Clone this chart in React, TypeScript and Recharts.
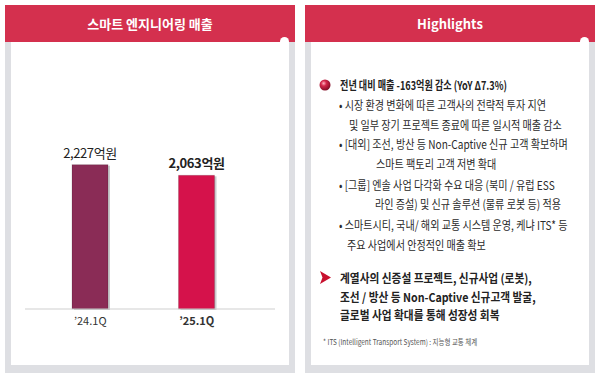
import React from "react";
import { BarChart, Bar, XAxis, YAxis, Cell, LabelList } from "recharts";

const categories = ["’24.1Q", "’25.1Q"];
const salesValues = [2227, 2063];
const valueLabels = ["2,227억원", "2,063억원"];
const barColors = ["#8a2c56", "#d5124b"];
const boldFlags = [false, true];

const leftTitle = "스마트 엔지니어링 매출";
const rightTitle = "Highlights";
const headline = "전년 대비 매출 -163억원 감소 (YoY Δ7.3%)";
const bulletLines = [
  "• 시장 환경 변화에 따른 고객사의 전략적 투자 지연",
  "및 일부 장기 프로젝트 종료에 따른 일시적 매출 감소",
  "• [대외] 조선, 방산 등 Non-Captive 신규 고객 확보하며",
  "스마트 팩토리 고객 저변 확대",
  "• [그룹] 엔솔 사업 다각화 수요 대응 (북미 / 유럽 ESS",
  "라인 증설) 및 신규 솔루션 (물류 로봇 등) 적용",
  "• 스마트시티, 국내/ 해외 교통 시스템 운영, 케냐 ITS* 등",
  "주요 사업에서 안정적인 매출 확보",
];
const outlookLines = [
  "계열사의 신증설 프로젝트, 신규사업 (로봇),",
  "조선 / 방산 등 Non-Captive 신규고객 발굴,",
  "글로벌 사업 확대를 통해 성장성 회복",
];
const footnote = "* ITS (Intelligent Transport System) : 지능형 교통 체계";

const data = categories.map((c, i) => ({
  name: c,
  value: salesValues[i],
  label: valueLabels[i],
  bold: boldFlags[i],
}));

const FONT = "'Noto Sans CJK KR', 'Noto Sans', sans-serif";
const RED = "#d4304e";
const GRAY = "#dedfe3";

const bulletLefts = [339, 349, 339, 376, 339, 375, 339, 347];
const bulletCys = [105, 125, 144, 164, 185, 204, 225, 245];
const outlookCys = [278, 297, 315];

function Line({ text, left, cy, bold, size, scale, color }: any) {
  return (
    <div
      style={{
        position: "absolute",
        left,
        top: cy - 9,
        height: 18,
        lineHeight: "18px",
        fontSize: size,
        fontWeight: bold ? 700 : 400,
        color: color || "#222",
        whiteSpace: "nowrap",
        transform: `scaleX(${scale})`,
        transformOrigin: "left center",
        fontFamily: FONT,
      }}
    >
      {text}
    </div>
  );
}

function Panel({ left, title }: any) {
  return (
    <>
      <div
        style={{
          position: "absolute",
          left,
          top: 42,
          width: 290,
          height: 331,
          background: GRAY,
        }}
      />
      <div
        style={{
          position: "absolute",
          left: left + 6,
          top: 42,
          width: 278,
          height: 323,
          background: "#ffffff",
        }}
      />
      <div
        style={{
          position: "absolute",
          left,
          top: 5,
          width: 290,
          height: 37,
          background: RED,
          color: "#fff",
          fontFamily: FONT,
          fontWeight: 700,
          fontSize: 13,
          lineHeight: "37px",
          textAlign: "center",
        }}
      >
        {title}
      </div>
      <div
        style={{
          position: "absolute",
          left: left + 275,
          top: 37,
          width: 9,
          height: 10,
          borderRadius: "5px 5px 0 0",
          background: "#ffffff",
        }}
      />
    </>
  );
}

const Tick = (props: any) => {
  const { x, y, payload, index } = props;
  return (
    <text
      x={x}
      y={y}
      dy="0.71em"
      textAnchor="middle"
      fontSize={11}
      fontFamily={FONT}
      fontWeight={boldFlags[index] ? 700 : 400}
      fill="#333"
    >
      {payload.value}
    </text>
  );
};

const BarShape = (props: any) => {
  const { x, y, width, height, fill } = props;
  return (
    <g>
      <rect x={x + 2} y={y + 1} width={width} height={height} fill="#c9c9cc" />
      <rect x={x} y={y} width={width} height={height} fill={fill} stroke="rgba(0,0,0,0.15)" strokeWidth={1} />
    </g>
  );
};

const ValueLabel = (props: any) => {
  const { x, y, width, index } = props;
  return (
    <text
      x={x + width / 2}
      y={y - 7}
      textAnchor="middle"
      fontSize={13}
      fontFamily={FONT}
      fontWeight={boldFlags[index] ? 700 : 400}
      fill="#222"
      letterSpacing={-0.4}
    >
      {valueLabels[index]}
    </text>
  );
};

export default function App() {
  return (
    <div
      style={{
        position: "absolute",
        left: 0,
        top: 0,
        width: 600,
        height: 380,
        background: "#fff",
        overflow: "hidden",
        fontFamily: FONT,
      }}
    >
      <Panel left={5} title={leftTitle} />
      <Panel left={305} title={rightTitle} />

      <div style={{ position: "absolute", left: 5, top: 42 }}>
        <BarChart
          width={290}
          height={297}
          data={data}
          margin={{ top: 105, right: 20, bottom: 0, left: 20 }}
        >
          <YAxis hide domain={[0, 2500]} />
          <XAxis
            dataKey="name"
            height={30}
            axisLine={{ stroke: "#cfcfcf" }}
            tickLine={false}
            tick={<Tick />}
            padding={{ left: 12, right: 25 }}
          />
          <Bar dataKey="value" barSize={36} isAnimationActive={false} shape={<BarShape />}>
            {data.map((d, i) => (
              <Cell key={d.name} fill={barColors[i]} />
            ))}
            <LabelList dataKey="label" content={<ValueLabel />} />
          </Bar>
        </BarChart>
      </div>

      <svg
        style={{ position: "absolute", left: 0, top: 0 }}
        width={600}
        height={380}
        pointerEvents="none"
      >
        <defs>
          <radialGradient id="sphere" cx="0.38" cy="0.35" r="0.7">
            <stop offset="0" stopColor="#ffb3c0" />
            <stop offset="0.35" stopColor="#d4274a" />
            <stop offset="1" stopColor="#7a0a22" />
          </radialGradient>
        </defs>
        <circle cx={325} cy={85} r={5.5} fill="url(#sphere)" />
        <polygon points="320,271 331,277.5 320,284 322.5,277.5" fill="#c8102e" />
      </svg>

      <Line text={headline} left={340} cy={85} bold size={12} scale={0.76} />
      {bulletLines.map((t, i) => (
        <Line key={i} text={t} left={bulletLefts[i]} cy={bulletCys[i]} size={12} scale={0.84} color="#2a2a2a" />
      ))}
      {outlookLines.map((t, i) => (
        <Line key={i} text={t} left={340} cy={outlookCys[i]} bold size={12} scale={0.89} />
      ))}
      <Line text={footnote} left={323} cy={342} size={8} scale={0.81} color="#555" />
    </div>
  );
}
